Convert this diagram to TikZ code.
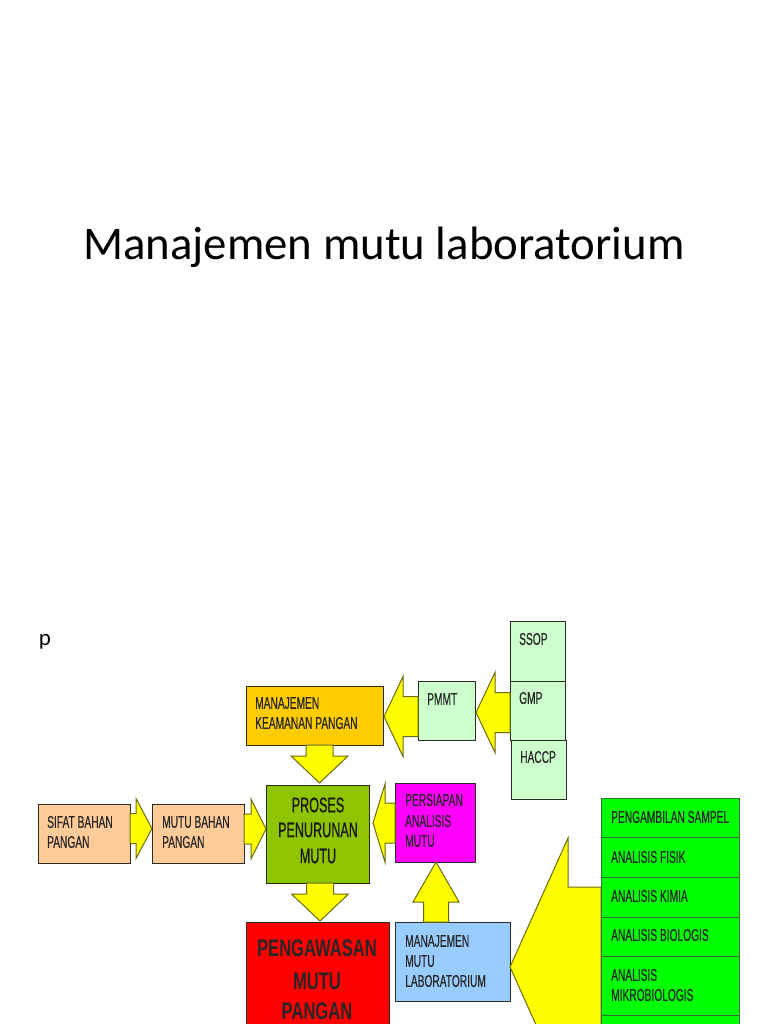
\documentclass[tikz,border=0pt]{standalone}
\usepackage{fontspec}
\setmainfont{Carlito}
\newfontfamily\narrowf[FakeStretch=0.6,FakeBold=0.35]{Liberation Sans}
\newfontfamily\narrowm[FakeStretch=0.6,FakeBold=0.7]{Liberation Sans}
\newfontfamily\narrowb[FakeStretch=0.69]{Liberation Sans}
\usetikzlibrary{calc}
\definecolor{cOrange}{HTML}{FFCC00}
\definecolor{cPeach}{HTML}{FFCC99}
\definecolor{cOlive}{HTML}{8FC400}
\definecolor{cPale}{HTML}{CCFFCC}
\definecolor{cBlue}{HTML}{99CCFF}
\definecolor{cLine}{HTML}{2A2A20}
\definecolor{cYellow}{HTML}{FFFF00}
\definecolor{cMagenta}{HTML}{FF00FF}
\definecolor{cRed}{HTML}{FF0000}
\definecolor{cGreen}{HTML}{00FF00}
\definecolor{cGreenLine}{HTML}{2F6F2F}
\definecolor{cArrowLine}{HTML}{6B6B10}
\tikzset{
  x=1pt,y=-1pt,
  box/.style={draw=cLine,line width=0.9pt,inner sep=0pt,outer sep=0pt},
  gbox/.style={draw=cGreenLine,line width=1pt,inner sep=0pt,outer sep=0pt},
  blk/.style={draw=cArrowLine,line width=1pt,fill=cYellow,line join=miter},
  lbl/.style={font=\narrowf\fontsize{17}{20}\selectfont,text=black!85,align=left,anchor=west,inner sep=0pt},
  midl/.style={font=\narrowm\fontsize{21}{25}\selectfont,text=black!90,align=center,inner sep=0pt},
  bigl/.style={font=\narrowb\bfseries\fontsize{24}{37}\selectfont,text=black!85,align=center,inner sep=0pt},
}
% #1 tip, #2 base, #3 head length, #4 half shaft, #5 half head
\newcommand\harrow[5]{%
  \draw[blk] let \p1=(#1),\p2=(#2),\n1={sign(\x2-\x1)} in
    (\x1,\y1) -- ({\x1+\n1*#3},{\y1+#5}) -- ({\x1+\n1*#3},{\y1+#4}) -- ({\x2},{\y1+#4})
    -- ({\x2},{\y1-#4}) -- ({\x1+\n1*#3},{\y1-#4}) -- ({\x1+\n1*#3},{\y1-#5}) -- cycle;}
\newcommand\varrow[5]{%
  \draw[blk] let \p1=(#1),\p2=(#2),\n1={sign(\y2-\y1)} in
    (\x1,\y1) -- ({\x1+#5},{\y1+\n1*#3}) -- ({\x1+#4},{\y1+\n1*#3}) -- ({\x1+#4},{\y2})
    -- ({\x1-#4},{\y2}) -- ({\x1-#4},{\y1+\n1*#3}) -- ({\x1-#5},{\y1+\n1*#3}) -- cycle;}
\newcommand\rbox[7][box]{% style, name, x0,y0,x1,y1, fill
  \node[#1,fill=#7,minimum width={#5-#3},minimum height={#6-#4}] (#2) at ({(#3+#5)/2},{(#4+#6)/2}) {};}
\begin{document}
\begin{tikzpicture}
\clip (0,0) rectangle (768,1024);
\fill[white] (0,0) rectangle (768,1024);
\node[font=\fontsize{46.8}{50}\selectfont,text=black,inner sep=0pt] (title) at (384,247) {Manajemen mutu laboratorium};
\node[font=\fontsize{23}{24}\selectfont,inner sep=0pt] (pmark) at (45,642) {p};

\rbox{mkp}{246}{686}{383}{745}{cOrange}
\rbox{sifat}{38}{804}{130}{863}{cPeach}
\rbox{mbp}{152}{804}{244}{863}{cPeach}
\rbox{proses}{266}{785}{369}{883}{cOlive}
\rbox{peng}{246}{922}{389}{1060}{cRed}
\rbox{pmmt}{418}{681}{475}{740}{cPale}
\rbox{ssop}{510}{621}{565}{681}{cPale}
\rbox{gmp}{510}{681}{565}{740}{cPale}
\rbox{haccp}{511}{740}{566}{799}{cPale}
\rbox{pam}{395}{783}{475}{862}{cMagenta}
\rbox{mml}{395}{922}{510}{1001}{cBlue}

% block arrows
\varrow{[xshift=5pt,yshift=-38pt]mkp.south}{mkp.south}{27}{13.5}{28.5}
\varrow{[xshift=2.5pt,yshift=-38pt]proses.south}{proses.south}{27}{13.5}{28.5}
\harrow{[yshift=5pt]mbp.west}{sifat.east}{16}{15}{30}
\harrow{[yshift=5pt]proses.west}{mbp.east}{15}{15}{30}
\harrow{[xshift=4pt,yshift=11pt]proses.east}{pam.west}{12}{20}{39}
\harrow{[xshift=1pt,yshift=-1pt]mkp.east}{pmmt.west}{19}{20}{40}
\harrow{[xshift=1pt,yshift=-2pt]pmmt.east}{gmp.west}{19}{20}{40}
\varrow{[xshift=1pt]pam.south}{[xshift=1pt]mml.north}{40}{12.5}{23}

% list and big arrow
\draw[blk] (510,967) -- (568,838) -- (568,887) -- (601,887) -- (601,1047) -- (568,1047) -- (568,1096) -- cycle;
\rbox[gbox]{g1}{601}{798}{739}{837.5}{cGreen}
\rbox[gbox]{g2}{601}{837.5}{739}{877}{cGreen}
\rbox[gbox]{g3}{601}{877}{739}{917}{cGreen}
\rbox[gbox]{g4}{601}{917}{739}{956}{cGreen}
\rbox[gbox]{g5}{601}{956}{739}{1015}{cGreen}
\rbox[gbox]{g6}{601}{1015}{739}{1060}{cGreen}

% labels
\node[lbl] (tmkp) at (255,703) {MANAJEMEN};
\node[lbl] (tmkp2) at (255,723) {KEAMANAN PANGAN};
\node[lbl] (tsifat) at (47,822) {SIFAT BAHAN};
\node[lbl] (tsifat2) at (47,842) {PANGAN};
\node[lbl] (tmbp) at (162,822) {MUTU BAHAN};
\node[lbl] (tmbp2) at (162,842) {PANGAN};
\node[lbl] (tpmmt) at (427,699) {PMMT};
\node[lbl] (tssop) at (519,639) {SSOP};
\node[lbl] (tgmp) at (519,698) {GMP};
\node[lbl] (thaccp) at (520,757) {HACCP};
\node[lbl] (tpam) at (405,800) {PERSIAPAN};
\node[lbl] (tpam2) at (405,821) {ANALISIS};
\node[lbl] (tpam3) at (405,841) {MUTU};
\node[lbl] (tmml) at (405,941) {MANAJEMEN};
\node[lbl] (tmml2) at (405,961) {MUTU};
\node[lbl] (tmml3) at (405,981) {LABORATORIUM};
\node[lbl] (tg1) at (611,817) {PENGAMBILAN SAMPEL};
\node[lbl] (tg2) at (611,857) {ANALISIS FISIK};
\node[lbl] (tg3) at (611,896) {ANALISIS KIMIA};
\node[lbl] (tg4) at (611,935) {ANALISIS BIOLOGIS};
\node[lbl] (tg5) at (611,975) {ANALISIS};
\node[lbl] (tg5b) at (611,995) {MIKROBIOLOGIS};
\node[midl] (tproses) at (318,805) {PROSES};
\node[midl] (tproses2) at (318,830) {PENURUNAN};
\node[midl] (tproses3) at (318,856) {MUTU};
\node[bigl] (tpeng) at (317,948) {PENGAWASAN};
\node[bigl] (tpeng2) at (317,981) {MUTU};
\node[bigl] (tpeng3) at (317,1011) {PANGAN};
\end{tikzpicture}
\end{document}
